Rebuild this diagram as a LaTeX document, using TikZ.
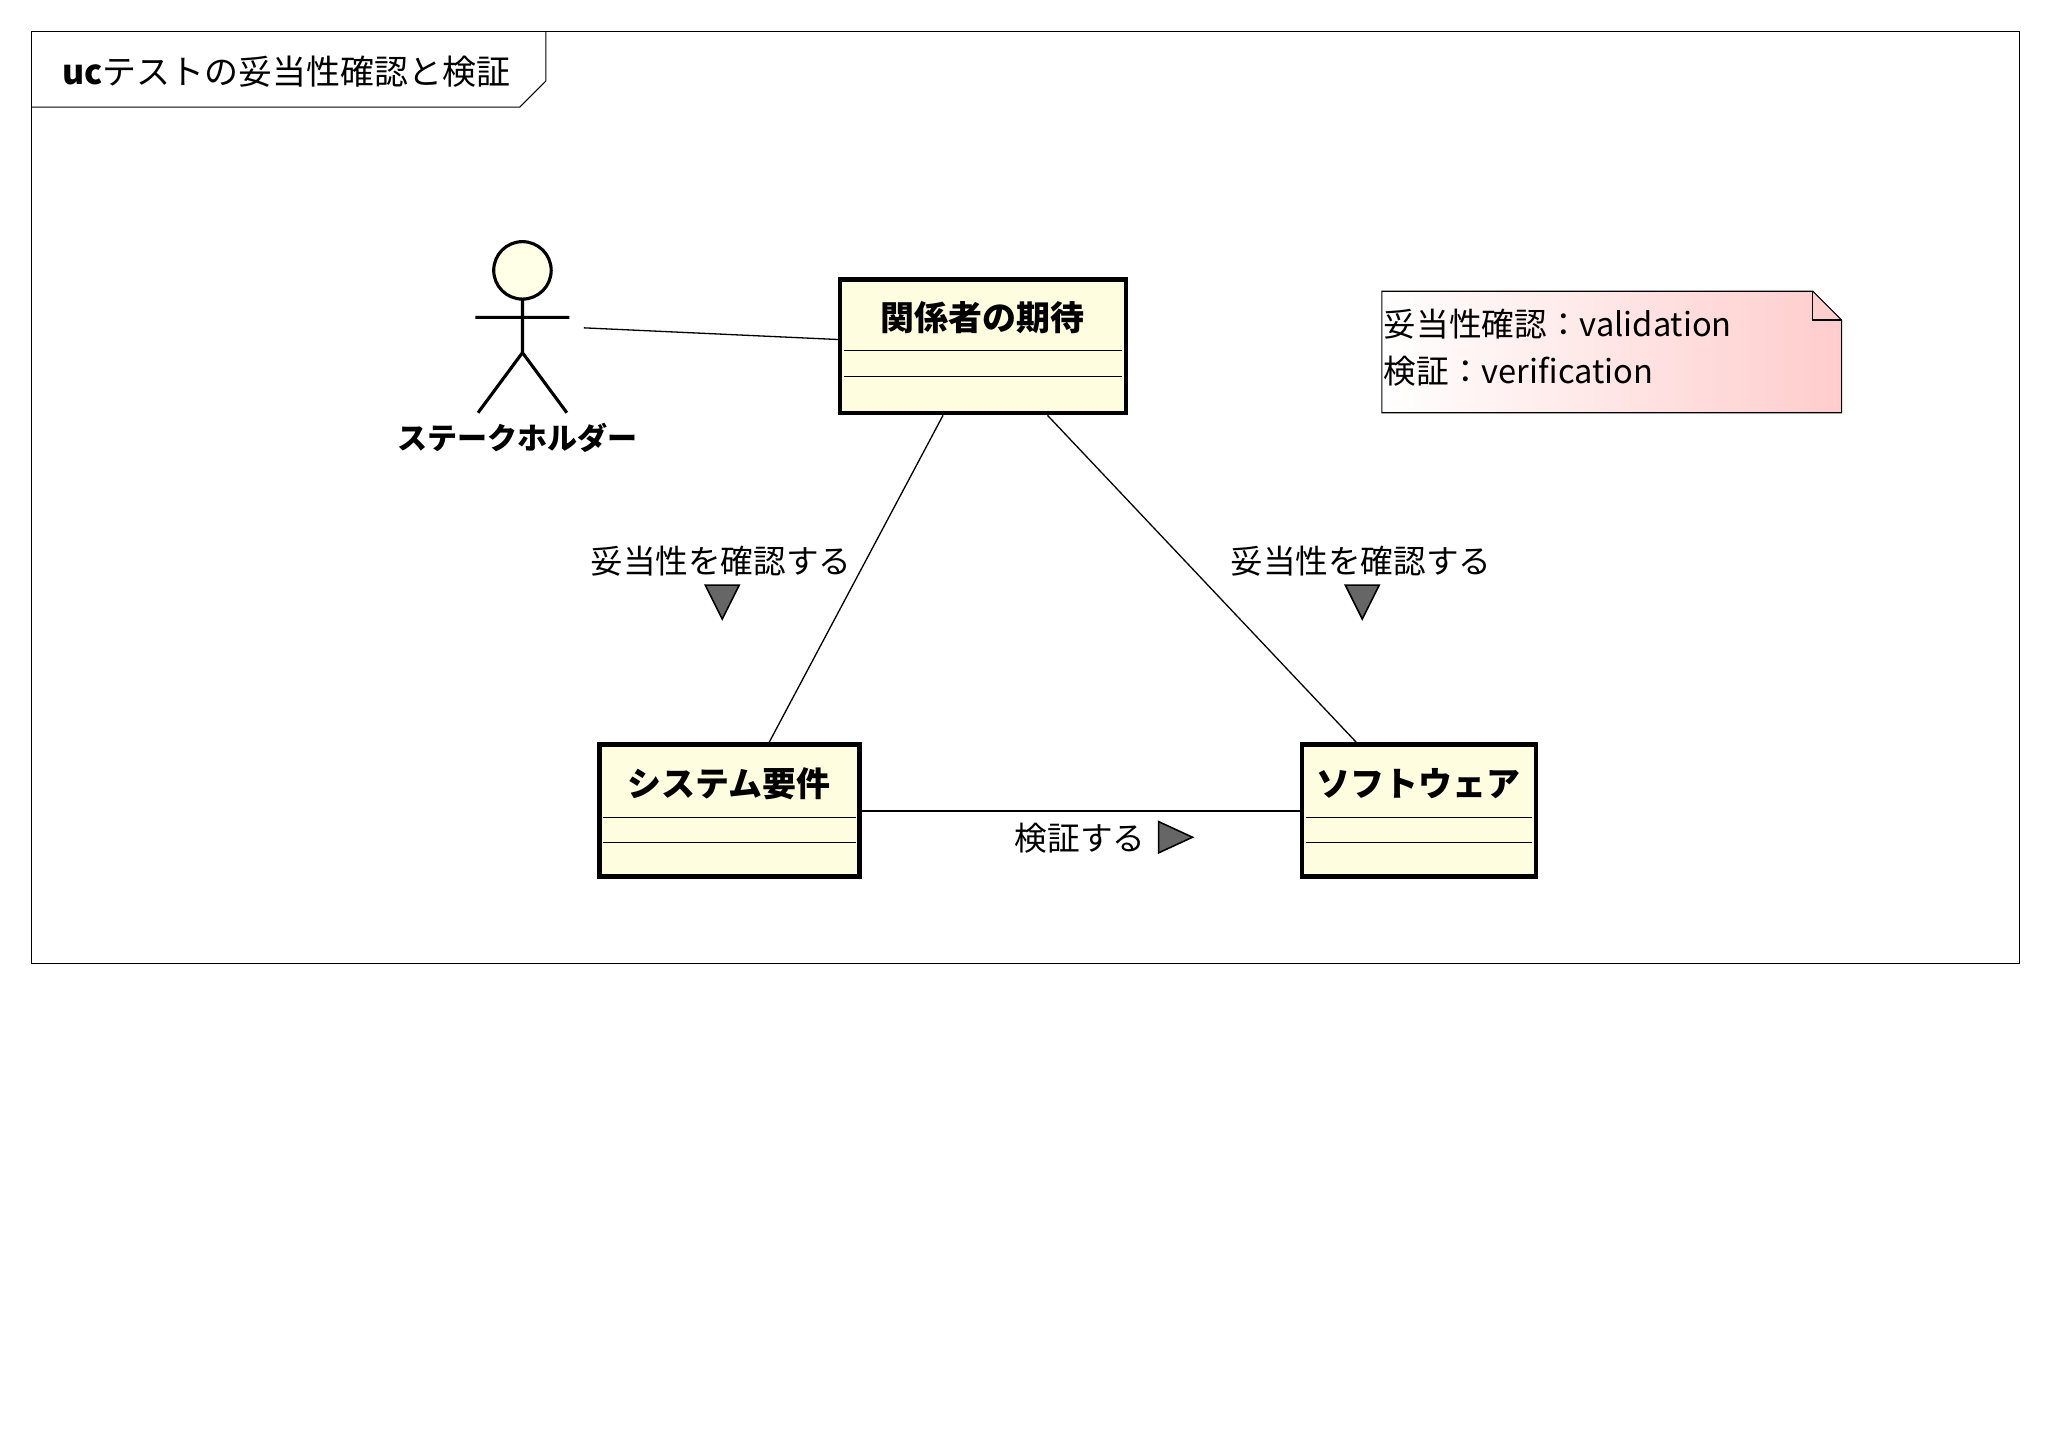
\documentclass[tikz,border=0pt]{standalone}
\usepackage{fontspec}
\setmainfont{Noto Sans CJK JP}
\begin{document}
\begin{tikzpicture}[x=1pt,y=-1pt,
  cls/.style={draw=black,line width=3.2pt,fill=yellow!12},
  lbl/.style={font=\fontsize{25}{28}\selectfont},
  ttl/.style={font=\bfseries\fontsize{26}{30}\selectfont},
  tri/.style={draw=black,fill=gray!80!black,line width=1.2pt}]
\useasboundingbox (0,0) rectangle (1568,1108);
\fill[white] (0,0) rectangle (1568,1108);
% frame
\draw[line width=0.8pt] (24,24) rectangle (1546,738);
\draw[line width=0.8pt] (24,82) -- (398,82) -- (418,62) -- (418,24);
\node[anchor=west,font=\fontsize{26}{30}\selectfont] (ttlf) at (44,55) {\textbf{uc}テストの妥当性確認と検証};
% actor
\draw[line width=2.4pt,fill=yellow!10] (400,207) circle (22);
\draw[line width=2.4pt] (400,229) -- (400,270) (364,243) -- (436,243) (400,270) -- (366,316) (400,270) -- (434,316);
\coordinate (act) at (447,251);
\node[font=\bfseries\fontsize{23}{26}\selectfont] (actl) at (396,335) {ステークホルダー};
% classes
\draw[cls] (643,214) rectangle (862,316);
\draw[line width=0.8pt] (646,268) -- (859,268) (646,288) -- (859,288);
\node[ttl] (c1) at (752,243) {関係者の期待};
\draw[cls] (459,570) rectangle (658,671);
\draw[line width=0.8pt] (462,626) -- (655,626) (462,645) -- (655,645);
\node[ttl] (c2) at (558,600) {システム要件};
\draw[cls] (997,570) rectangle (1176,671);
\draw[line width=0.8pt] (1000,626) -- (1173,626) (1000,645) -- (1173,645);
\node[ttl] (c3) at (1086,600) {ソフトウェア};
% note
\shade[left color=white,right color=red!20] (1058,223) -- (1388,223) -- (1410,245) -- (1410,316) -- (1058,316) -- cycle;
\draw[line width=0.8pt] (1058,223) -- (1388,223) -- (1410,245) -- (1410,316) -- (1058,316) -- cycle;
\draw[line width=0.8pt] (1388,223) -- (1388,245) -- (1410,245);
\node[anchor=west,font=\fontsize{25}{28}\selectfont] (n1) at (1056,248) {妥当性確認：validation};
\node[anchor=west,font=\fontsize{25}{28}\selectfont] (n2) at (1056,284) {検証：verification};
% connectors
\coordinate (c1a) at (722,318); \coordinate (c1b) at (802,318);
\coordinate (c2t) at (588,570); \coordinate (c3t) at (1040,570);
\coordinate (c2r) at (658,621); \coordinate (c3l) at (997,621);
\draw[line width=1pt] (act) -- (643,260);
\draw[line width=1pt] (c1a) -- (c2t);
\draw[line width=1pt] (c1b) -- (c3t);
\draw[line width=1pt] (c2r) -- (c3l);
% labels
\node[lbl] (l1) at (552,430) {妥当性を確認する};
\draw[tri] (540,448) -- (566,448) -- (553,474) -- cycle;
\node[lbl] (l2) at (1042,430) {妥当性を確認する};
\draw[tri] (1030,448) -- (1056,448) -- (1043,474) -- cycle;
\node[lbl] (l3) at (827,642) {検証する};
\draw[tri] (887,629) -- (913,641) -- (887,653) -- cycle;
\end{tikzpicture}
\end{document}
